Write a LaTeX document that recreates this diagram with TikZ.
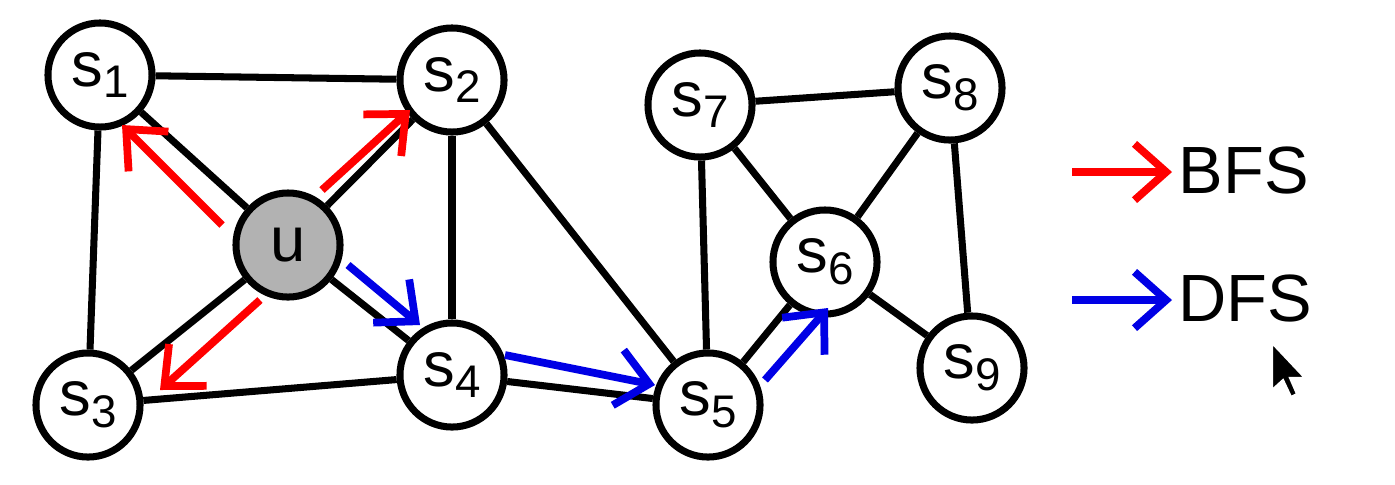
\documentclass[tikz,border=0pt]{standalone}
\usepackage{fontspec}
\setmainfont{Liberation Sans}
\usetikzlibrary{arrows.meta}
\newcommand{\lab}[2]{#1\raisebox{-0.35ex}{\fontsize{13}{14}\selectfont #2}}
\begin{document}
\begin{tikzpicture}[x=0.01cm,y=-0.01cm,
  vert/.style={circle,draw,line width=2pt,fill=white,minimum size=1.04cm,inner sep=0pt,font=\fontsize{18}{20}\selectfont},
  edge/.style={line width=2pt},
  trav/.style={line width=2.2pt,-{Straight Barb[length=9pt,width=16pt,line width=2.2pt]}},
  bfs/.style={trav,red},
  dfs/.style={trav,blue!90!black}]
\useasboundingbox (0,0) rectangle (1395,484);
\node[vert] (s1) at (100,75) {\lab{s}{1}};
\node[vert] (s2) at (452,80) {\lab{s}{2}};
\node[vert,fill=gray!60] (u) at (288,245) {u};
\node[vert] (s3) at (88,405) {\lab{s}{3}};
\node[vert] (s4) at (452,375) {\lab{s}{4}};
\node[vert] (s5) at (708,405) {\lab{s}{5}};
\node[vert] (s6) at (825,262) {\lab{s}{6}};
\node[vert] (s7) at (700,105) {\lab{s}{7}};
\node[vert] (s8) at (950,88) {\lab{s}{8}};
\node[vert] (s9) at (972,368) {\lab{s}{9}};
\foreach \a/\b in {s1/s2,s1/s3,s1/u,s2/u,s2/s4,s2/s5,u/s3,u/s4,s3/s4,s4/s5,s5/s7,s5/s6,s7/s6,s7/s8,s8/s6,s8/s9,s6/s9}
  \draw[edge] (\a) -- (\b);
\coordinate (r1a) at (222,225); \coordinate (r1b) at (122,125);
\coordinate (r2a) at (322,190); \coordinate (r2b) at (410,110);
\coordinate (r3a) at (260,300); \coordinate (r3b) at (160,390);
\coordinate (b1a) at (348,265); \coordinate (b1b) at (420,325);
\coordinate (b2a) at (505,355); \coordinate (b2b) at (655,385);
\coordinate (b3a) at (765,380); \coordinate (b3b) at (828,308);
\draw[bfs] (r1a) -- (r1b);
\draw[bfs] (r2a) -- (r2b);
\draw[bfs] (r3a) -- (r3b);
\draw[dfs] (b1a) -- (b1b);
\draw[dfs] (b2a) -- (b2b);
\draw[dfs] (b3a) -- (b3b);
\coordinate (lr1) at (1072,172); \coordinate (lr2) at (1172,172);
\coordinate (lb1) at (1072,300); \coordinate (lb2) at (1172,300);
\draw[bfs] (lr1) -- (lr2);
\draw[dfs] (lb1) -- (lb2);
\node[anchor=west,font=\fontsize{19}{22}\selectfont,inner sep=0pt] (bfsl) at (1178,170) {BFS};
\node[anchor=west,font=\fontsize{19}{22}\selectfont,inner sep=0pt] (dfsl) at (1178,298) {DFS};
\draw[fill=black,draw=white,line width=0.6pt] (1272,343) -- (1272,390) -- (1283,380) -- (1291,397) -- (1297,394) -- (1290,378) -- (1305,378) -- cycle;
\end{tikzpicture}
\end{document}
